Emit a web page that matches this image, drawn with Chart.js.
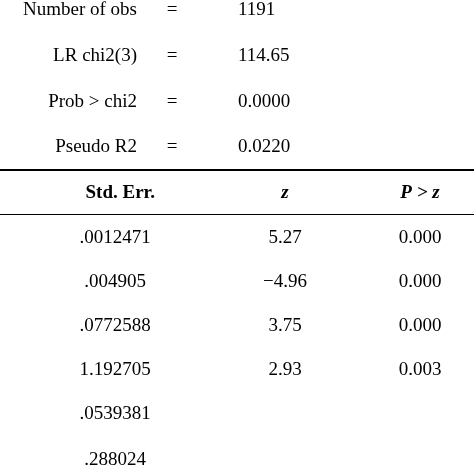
<!DOCTYPE html>
<html><head><meta charset="utf-8">
<script src="https://cdn.jsdelivr.net/npm/chart.js@4"></script>
<style>html,body{margin:0;padding:0;background:#fff}#w{width:474px;height:474px}</style>
</head><body><div id="w"><canvas id="c"></canvas></div>
<script>
const statLabels = ["Number of obs","LR chi2(3)","Prob > chi2","Pseudo R2"];
const statValues = ["1191","114.65","0.0000","0.0220"];
const headers = ["Std. Err.","z","P > z"];
const stdErr = [".0012471",".004905",".0772588","1.192705",".0539381",".288024"];
const zVals = ["5.27","\u22124.96","3.75","2.93","",""];
const pVals = ["0.000","0.000","0.000","0.003","",""];
const statY = [10,56,102,147];
const rowY = [238,282,326,370,414,460];

const tablePlugin = {
  id:'table',
  afterDraw(chart){
    const ctx = chart.ctx, x = chart.scales.x, y = chart.scales.y;
    ctx.save();
    ctx.fillStyle = '#000';
    ctx.textBaseline = 'middle';
    ctx.font = '19px "Liberation Serif"';
    statLabels.forEach((t,i)=>{
      ctx.textAlign='right'; ctx.fillText(t, x.getPixelForValue(137), y.getPixelForValue(statY[i]));
      ctx.textAlign='center'; ctx.fillText('=', x.getPixelForValue(172), y.getPixelForValue(statY[i]));
      ctx.textAlign='left'; ctx.fillText(statValues[i], x.getPixelForValue(238), y.getPixelForValue(statY[i]));
    });
    ctx.fillRect(x.getPixelForValue(0), y.getPixelForValue(169), 474, 2);
    ctx.fillRect(x.getPixelForValue(0), y.getPixelForValue(214), 474, 1);
    ctx.font = 'bold 19px "Liberation Serif"';
    ctx.textAlign='right'; ctx.fillText(headers[0], x.getPixelForValue(155), y.getPixelForValue(193));
    ctx.font = 'bold italic 19px "Liberation Serif"';
    ctx.textAlign='center'; ctx.fillText(headers[1], x.getPixelForValue(285), y.getPixelForValue(193));
    ctx.fillText(headers[2], x.getPixelForValue(420), y.getPixelForValue(193));
    ctx.font = '19px "Liberation Serif"';
    rowY.forEach((ry,i)=>{
      const py = y.getPixelForValue(ry);
      ctx.textAlign='center';
      ctx.fillText(stdErr[i], x.getPixelForValue(115), py);
      ctx.fillText(zVals[i], x.getPixelForValue(285), py);
      ctx.fillText(pVals[i], x.getPixelForValue(420), py);
    });
    ctx.restore();
  }
};
new Chart(document.getElementById('c'),{
  type:'scatter',
  data:{datasets:[{data:[],pointRadius:0}]},
  options:{responsive:true,maintainAspectRatio:false,animation:false,
    layout:{padding:0},
    plugins:{legend:{display:false},tooltip:{enabled:false}},
    scales:{x:{type:'linear',min:0,max:474,display:false},
            y:{type:'linear',min:0,max:474,reverse:true,display:false}}},
  plugins:[tablePlugin]
});
</script></body></html>
